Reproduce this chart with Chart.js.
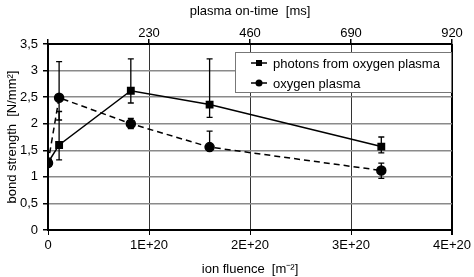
<!DOCTYPE html>
<html>
<head>
<meta charset="utf-8">
<script src="https://cdn.jsdelivr.net/npm/chart.js@4"></script>
<style>
  html, body { margin: 0; padding: 0; background: #fff; }
  #wrap { width: 474px; height: 277px; }
</style>
</head>
<body>
<div id="wrap"><canvas id="c" width="474" height="277"></canvas></div>
<script>
// ion fluence [m^-2]
const fluence = [0, 0.11e20, 0.82e20, 1.6e20, 3.3e20];

const photonsVals = [1.27, 1.6, 2.62, 2.36, 1.57];
const photonsUp = [0, 0.63, 0.6, 0.86, 0.18];
const photonsDown = [0, 0.28, 0.23, 0.24, 0.12];

const oxygenVals = [1.26, 2.49, 2.0, 1.56, 1.12];
const oxygenUp = [0, 0.68, 0.1, 0.3, 0.14];
const oxygenDown = [0, 0.42, 0.09, 0.06, 0.15];

const seriesNames = ['photons from oxygen plasma', 'oxygen plasma'];
const onTimeTicks = [0, 230, 460, 690, 920];

const FONT = 'Liberation Sans, Arial, sans-serif';

function pts(vals) {
    return fluence.map((x, i) => ({ x: x, y: vals[i] }));
}

// error bars drawn through the scales
const errorBars = {
    id: 'errorBars',
    beforeDatasetsDraw(chart) {
        const ctx = chart.ctx;
        const xs = chart.scales.x, ys = chart.scales.y;
        ctx.save();
        ctx.strokeStyle = '#000';
        ctx.lineWidth = 1.3;
        chart.data.datasets.forEach(ds => {
            ds.data.forEach((p, i) => {
                const up = ds.errUp[i], dn = ds.errDown[i];
                if (!up && !dn) return;
                const px = xs.getPixelForValue(p.x);
                const top = ys.getPixelForValue(p.y + up);
                const bot = ys.getPixelForValue(p.y - dn);
                ctx.beginPath();
                ctx.moveTo(px, top); ctx.lineTo(px, bot);
                ctx.moveTo(px - 3, top); ctx.lineTo(px + 3, top);
                ctx.moveTo(px - 3, bot); ctx.lineTo(px + 3, bot);
                ctx.stroke();
            });
        });
        ctx.restore();
    }
};

// legend box inside the plot, top right
const boxLegend = {
    id: 'boxLegend',
    afterDraw(chart) {
        const ctx = chart.ctx;
        const area = chart.chartArea;
        const w = 217, h = 41;
        const x0 = area.right - w, y0 = area.top + 8;
        ctx.save();
        ctx.fillStyle = '#fff';
        ctx.fillRect(x0, y0, w, h);
        ctx.strokeStyle = '#777';
        ctx.lineWidth = 1;
        ctx.strokeRect(x0 + 0.5, y0 + 0.5, w - 1, h - 1);
        ctx.font = '13px ' + FONT;
        ctx.textBaseline = 'middle';
        chart.data.datasets.forEach((ds, i) => {
            const cy = y0 + 11 + i * 20;
            ctx.strokeStyle = '#000';
            ctx.lineWidth = 1.5;
            ctx.setLineDash([]);
            ctx.beginPath();
            ctx.moveTo(x0 + 16, cy); ctx.lineTo(x0 + 32, cy);
            ctx.stroke();
            ctx.fillStyle = '#000';
            if (ds.pointStyle === 'rect') {
                ctx.fillRect(x0 + 21, cy - 3, 6, 6);
            } else {
                ctx.beginPath();
                ctx.arc(x0 + 24, cy, 3.5, 0, Math.PI * 2);
                ctx.fill();
            }
            ctx.fillText(seriesNames[i], x0 + 38, cy + 1);
        });
        ctx.restore();
    }
};

new Chart(document.getElementById('c'), {
    type: 'line',
    data: {
        datasets: [
            {
                label: seriesNames[0],
                data: pts(photonsVals),
                errUp: photonsUp, errDown: photonsDown,
                borderColor: '#000', backgroundColor: '#000',
                borderWidth: 1.5,
                pointStyle: 'rect', pointRadius: 4.5,
                tension: 0
            },
            {
                label: seriesNames[1],
                data: pts(oxygenVals),
                errUp: oxygenUp, errDown: oxygenDown,
                borderColor: '#000', backgroundColor: '#000',
                borderWidth: 1.5, borderDash: [6, 4],
                pointStyle: 'circle', pointRadius: 4.5,
                tension: 0
            }
        ]
    },
    options: {
        responsive: false,
        animation: false,
        layout: { padding: { right: 22, left: 0, top: 0, bottom: 0 } },
        plugins: { legend: { display: false }, tooltip: { enabled: false } },
        scales: {
            x: {
                type: 'linear', position: 'bottom',
                min: 0, max: 4e20,
                afterFit: s => { s.height = 47; },
                afterBuildTicks: s => { s.ticks = [0, 1e20, 2e20, 3e20, 4e20].map(v => ({ value: v })); },
                ticks: {
                    color: '#000', font: { family: FONT, size: 13 }, padding: 3,
                    maxRotation: 0,
                    callback: v => v === 0 ? '0' : Math.round(v / 1e20) + 'E+20'
                },
                grid: {
                    color: ctx => ctx.tick && ctx.tick.value === 4e20 ? '#000' : '#333',
                    lineWidth: ctx => ctx.tick && ctx.tick.value === 4e20 ? 2 : 1,
                    tickLength: 5, tickColor: '#000'
                },
                border: { color: '#000', width: 2 },
                title: {
                    display: true, text: 'ion fluence  [m⁻²]', color: '#000',
                    font: { family: FONT, size: 13 }, padding: { top: 4, bottom: 0 }
                }
            },
            x2: {
                type: 'linear', position: 'top',
                min: 0, max: 920,
                afterFit: s => { s.height = 44; },
                afterBuildTicks: s => { s.ticks = onTimeTicks.map(v => ({ value: v })); },
                ticks: {
                    color: '#000', font: { family: FONT, size: 13 }, padding: -2,
                    maxRotation: 0,
                    callback: v => v === 0 ? '' : String(v)
                },
                grid: { drawOnChartArea: false, tickLength: 5, tickColor: '#000', lineWidth: 1.5 },
                border: { color: '#000', width: 2 },
                title: {
                    display: true, text: 'plasma on-time  [ms]', color: '#000',
                    font: { family: FONT, size: 13 }, padding: { top: 4, bottom: 2 }
                }
            },
            y: {
                type: 'linear', position: 'left',
                min: 0, max: 3.5,
                afterFit: s => { s.width = 48; },
                ticks: {
                    stepSize: 0.5, color: '#000', font: { family: FONT, size: 13 }, padding: 5,
                    callback: v => String(v).replace('.', ',')
                },
                grid: { color: '#8a8a8a', lineWidth: 1.5, tickLength: 5, tickColor: '#000' },
                border: { color: '#000', width: 2 },
                title: {
                    display: true, text: 'bond strength  [N/mm²]', color: '#000',
                    font: { family: FONT, size: 13 }, padding: { top: 5, bottom: 0 }
                }
            }
        }
    },
    plugins: [errorBars, boxLegend]
});
</script>
</body>
</html>
